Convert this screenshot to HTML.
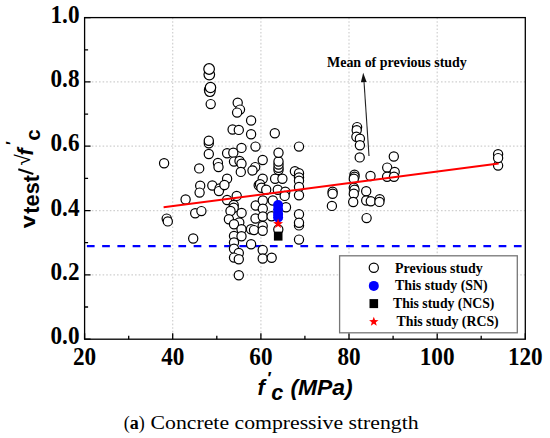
<!DOCTYPE html>
<html><head><meta charset="utf-8"><style>
html,body{margin:0;padding:0;background:#fff;width:550px;height:438px;overflow:hidden}
svg{display:block}


</style></head><body>
<svg width="550" height="438" viewBox="0 0 550 438">
<rect width="550" height="438" fill="#fff"/>
<g stroke="#d0d0d0" stroke-width="1.2" stroke-dasharray="1.6 2.0"><line x1="172.7" y1="17.6" x2="172.7" y2="339.2"/><line x1="260.9" y1="17.6" x2="260.9" y2="339.2"/><line x1="349.0" y1="17.6" x2="349.0" y2="339.2"/><line x1="437.2" y1="17.6" x2="437.2" y2="339.2"/><line x1="84.6" y1="274.9" x2="525.3" y2="274.9"/><line x1="84.6" y1="210.6" x2="525.3" y2="210.6"/><line x1="84.6" y1="146.2" x2="525.3" y2="146.2"/><line x1="84.6" y1="81.9" x2="525.3" y2="81.9"/></g>
<line x1="86.9" y1="246.1" x2="521.6" y2="246.1" stroke="#0000ff" stroke-width="2.2" stroke-dasharray="7.7 7.55"/>
<g fill="#fff" stroke="#000" stroke-width="1.2"><circle cx="164.1" cy="163.2" r="4.6"/><circle cx="166.7" cy="218.6" r="4.6"/><circle cx="167.8" cy="221.4" r="4.6"/><circle cx="185.6" cy="199.5" r="4.6"/><circle cx="193.2" cy="238.5" r="4.6"/><circle cx="195.2" cy="213.2" r="4.6"/><circle cx="201.4" cy="211.1" r="4.6"/><circle cx="199.2" cy="168.4" r="4.6"/><circle cx="200.2" cy="185.7" r="4.6"/><circle cx="199.6" cy="192.6" r="4.6"/><circle cx="209.3" cy="74.6" r="5.3"/><circle cx="209.1" cy="69.0" r="5.3"/><circle cx="209.6" cy="90.0" r="5.2"/><circle cx="209.9" cy="91.3" r="5.2"/><circle cx="210.5" cy="87.5" r="5.2"/><circle cx="210.7" cy="104.1" r="4.6"/><circle cx="208.8" cy="143.2" r="4.6"/><circle cx="208.8" cy="140.8" r="4.6"/><circle cx="208.8" cy="154" r="4.6"/><circle cx="212.3" cy="185.5" r="4.6"/><circle cx="217.9" cy="163" r="4.6"/><circle cx="218.5" cy="167.1" r="4.6"/><circle cx="219.6" cy="188.4" r="4.6"/><circle cx="218.9" cy="191.1" r="4.6"/><circle cx="227.1" cy="153.2" r="4.6"/><circle cx="233.3" cy="152.7" r="4.6"/><circle cx="241.5" cy="147.9" r="4.6"/><circle cx="232.6" cy="129.5" r="4.6"/><circle cx="238.8" cy="129.9" r="4.6"/><circle cx="237.7" cy="102.7" r="4.6"/><circle cx="240" cy="109.6" r="4.6"/><circle cx="237.1" cy="112.6" r="4.6"/><circle cx="234" cy="161.6" r="4.6"/><circle cx="239.5" cy="161" r="4.6"/><circle cx="241.5" cy="163.7" r="4.6"/><circle cx="240.8" cy="171.9" r="4.6"/><circle cx="227.1" cy="178.8" r="4.6"/><circle cx="224.4" cy="185" r="4.6"/><circle cx="236.7" cy="195.9" r="4.6"/><circle cx="227.1" cy="200" r="4.6"/><circle cx="233.7" cy="205" r="4.6"/><circle cx="233.7" cy="207.8" r="4.6"/><circle cx="230.5" cy="211" r="4.6"/><circle cx="241.6" cy="212.9" r="4.6"/><circle cx="228.9" cy="219.2" r="4.6"/><circle cx="239.3" cy="222.5" r="4.6"/><circle cx="234" cy="224.3" r="4.6"/><circle cx="241.5" cy="229.3" r="4.6"/><circle cx="234" cy="235.9" r="4.6"/><circle cx="241.5" cy="236.3" r="4.6"/><circle cx="234" cy="242.5" r="4.6"/><circle cx="234" cy="248.7" r="4.6"/><circle cx="238.8" cy="253" r="4.6"/><circle cx="234" cy="257.6" r="4.6"/><circle cx="238.8" cy="259.2" r="4.6"/><circle cx="238.8" cy="275.3" r="4.6"/><circle cx="251.1" cy="120.5" r="4.6"/><circle cx="251.1" cy="134.2" r="4.6"/><circle cx="255.5" cy="146.6" r="4.6"/><circle cx="255.2" cy="167.1" r="4.6"/><circle cx="252.5" cy="170.5" r="4.6"/><circle cx="251" cy="229.3" r="4.6"/><circle cx="254" cy="230.1" r="4.6"/><circle cx="251.1" cy="244.3" r="4.6"/><circle cx="255.7" cy="205.5" r="4.6"/><circle cx="255.5" cy="218.5" r="4.6"/><circle cx="258.7" cy="185.2" r="4.6"/><circle cx="262.7" cy="160" r="4.6"/><circle cx="262.7" cy="178.8" r="4.6"/><circle cx="260" cy="184.2" r="4.6"/><circle cx="261.4" cy="187.7" r="4.6"/><circle cx="266.2" cy="189.7" r="4.6"/><circle cx="262.8" cy="200.5" r="4.6"/><circle cx="262.8" cy="208.8" r="4.6"/><circle cx="262.8" cy="216.5" r="4.6"/><circle cx="262.7" cy="226" r="4.6"/><circle cx="262.7" cy="230.8" r="4.6"/><circle cx="262.7" cy="250" r="4.6"/><circle cx="262.7" cy="258.5" r="4.6"/><circle cx="271.7" cy="257.8" r="4.6"/><circle cx="272.8" cy="200.5" r="4.6"/><circle cx="271.6" cy="216.2" r="4.6"/><circle cx="274.8" cy="133.2" r="4.6"/><circle cx="278.5" cy="170" r="4.6"/><circle cx="278.5" cy="167.8" r="4.6"/><circle cx="278.5" cy="164.5" r="4.6"/><circle cx="278.5" cy="161.5" r="4.6"/><circle cx="278.5" cy="152.7" r="4.6"/><circle cx="275.1" cy="178.8" r="4.6"/><circle cx="282.4" cy="178.8" r="4.6"/><circle cx="277.8" cy="189.7" r="4.6"/><circle cx="285.3" cy="191.8" r="4.6"/><circle cx="284.7" cy="195.9" r="4.6"/><circle cx="286" cy="207.3" r="4.6"/><circle cx="278.3" cy="229.5" r="4.6"/><circle cx="299" cy="146.6" r="4.6"/><circle cx="294.9" cy="171.2" r="4.6"/><circle cx="299" cy="173.3" r="4.6"/><circle cx="299" cy="177.4" r="4.6"/><circle cx="299" cy="180.8" r="4.6"/><circle cx="299" cy="187" r="4.6"/><circle cx="299" cy="195.2" r="4.6"/><circle cx="299" cy="214.3" r="4.6"/><circle cx="299" cy="225.4" r="4.6"/><circle cx="299" cy="222.8" r="4.6"/><circle cx="299" cy="239.6" r="4.6"/><circle cx="332.6" cy="191.8" r="4.6"/><circle cx="332.6" cy="193.8" r="4.6"/><circle cx="331.9" cy="205.9" r="4.6"/><circle cx="357.1" cy="127.1" r="4.6"/><circle cx="356.7" cy="130.3" r="4.6"/><circle cx="356.4" cy="136.7" r="4.6"/><circle cx="359.9" cy="138.8" r="4.6"/><circle cx="359.9" cy="145.3" r="4.6"/><circle cx="359.7" cy="157.4" r="4.6"/><circle cx="354.5" cy="174.7" r="4.6"/><circle cx="354.5" cy="176.7" r="4.6"/><circle cx="353.8" cy="178.8" r="4.6"/><circle cx="353.8" cy="187.7" r="4.6"/><circle cx="354.5" cy="189.7" r="4.6"/><circle cx="353.8" cy="193.8" r="4.6"/><circle cx="353.2" cy="202" r="4.6"/><circle cx="370.5" cy="176" r="4.6"/><circle cx="366.2" cy="191.2" r="4.6"/><circle cx="366.2" cy="200.5" r="4.6"/><circle cx="370.8" cy="201.2" r="4.6"/><circle cx="379.7" cy="199.2" r="4.6"/><circle cx="379.4" cy="201.9" r="4.6"/><circle cx="366.6" cy="218.1" r="4.6"/><circle cx="393.8" cy="156.5" r="4.6"/><circle cx="387.2" cy="167.6" r="4.6"/><circle cx="394.7" cy="171.9" r="4.6"/><circle cx="387.1" cy="176.7" r="4.6"/><circle cx="394" cy="176.7" r="4.6"/><circle cx="498.1" cy="165.6" r="4.6"/><circle cx="498.1" cy="154.2" r="4.6"/><circle cx="498.1" cy="158.1" r="4.6"/></g>
<line x1="163.6" y1="207.3" x2="498.7" y2="163.6" stroke="#ff0000" stroke-width="2"/>
<g fill="#0000ff"><circle cx="278.1" cy="205.0" r="5"/><circle cx="278.1" cy="209.5" r="5"/><circle cx="278.1" cy="214.0" r="5"/><circle cx="278.1" cy="217.4" r="5"/></g>
<rect x="273.9" y="231.6" width="8.6" height="9" fill="#000"/>
<polygon points="278.10,218.60 279.39,222.02 283.05,222.19 280.19,224.48 281.16,228.01 278.10,226.00 275.04,228.01 276.01,224.48 273.15,222.19 276.81,222.02" fill="#ff0000"/>
<path d="M84.6,339.2V333.2M172.7,339.2V333.2M260.9,339.2V333.2M349.0,339.2V333.2M437.2,339.2V333.2M525.3,339.2V333.2M128.7,339.2V335.7M216.8,339.2V335.7M304.9,339.2V335.7M393.1,339.2V335.7M481.2,339.2V335.7M84.6,339.2H90.6M84.6,307.0H88.1M84.6,274.9H90.6M84.6,242.7H88.1M84.6,210.6H90.6M84.6,178.4H88.1M84.6,146.2H90.6M84.6,114.1H88.1M84.6,81.9H90.6M84.6,49.8H88.1M84.6,17.6H90.6" stroke="#000" stroke-width="1.3" fill="none"/>
<rect x="84.6" y="17.6" width="440.69999999999993" height="321.59999999999997" fill="none" stroke="#000" stroke-width="1.3"/>
<g font-family="Liberation Serif" font-weight="bold" font-size="23.2" fill="#000"><text transform="translate(79.5,344.20) scale(1,1.07)" text-anchor="end">0.0</text><text transform="translate(79.5,279.88) scale(1,1.07)" text-anchor="end">0.2</text><text transform="translate(79.5,215.56) scale(1,1.07)" text-anchor="end">0.4</text><text transform="translate(79.5,151.24) scale(1,1.07)" text-anchor="end">0.6</text><text transform="translate(79.5,86.92) scale(1,1.07)" text-anchor="end">0.8</text><text transform="translate(79.5,22.60) scale(1,1.07)" text-anchor="end">1.0</text><text transform="translate(84.60,364.8) scale(1,1.07)" text-anchor="middle">20</text><text transform="translate(172.74,364.8) scale(1,1.07)" text-anchor="middle">40</text><text transform="translate(260.88,364.8) scale(1,1.07)" text-anchor="middle">60</text><text transform="translate(349.02,364.8) scale(1,1.07)" text-anchor="middle">80</text><text transform="translate(437.16,364.8) scale(1,1.07)" text-anchor="middle">100</text><text transform="translate(525.30,364.8) scale(1,1.07)" text-anchor="middle">120</text></g>
<rect x="339.6" y="255.8" width="177.7" height="77.0" fill="#fff" stroke="#777" stroke-width="1.3"/>
<circle cx="373.8" cy="267.7" r="4.6" fill="#fff" stroke="#000" stroke-width="1.2"/>
<circle cx="373.8" cy="285.9" r="5" fill="#0000ff"/>
<rect x="369.5" y="299.1" width="8.6" height="9" fill="#000"/>
<polygon points="373.80,316.70 375.03,320.00 378.56,320.15 375.80,322.35 376.74,325.75 373.80,323.80 370.86,325.75 371.80,322.35 369.04,320.15 372.57,320.00" fill="#ff0000"/>
<g font-family="Liberation Serif" font-weight="bold" fill="#000"><text x="395" y="272.5" font-size="13.94">Previous study</text><text x="395" y="290" font-size="13.91">This study (SN)</text><text x="393" y="308" font-size="13.73">This study (NCS)</text><text x="396.5" y="325.5" font-size="13.84">This study (RCS)</text></g>
<text x="327" y="66.5" font-family="Liberation Serif" font-weight="bold" font-size="13.98">Mean of previous study</text>
<line x1="369" y1="156" x2="363.9" y2="80" stroke="#222" stroke-width="1.1"/>
<polygon points="363.2,72.8 360.9,82.3 366.6,81.9" fill="#111"/>
<g transform="rotate(-90)" font-family="Liberation Sans" fill="#000"><text transform="translate(-228.2,34.6) scale(1.12,1)" font-weight="bold" font-size="21">v</text><text x="-213.70" y="39.30" font-weight="bold" font-style="normal" font-size="21.76">test</text></g><line x1="18.3" y1="169.3" x2="33.3" y2="174.0" stroke="#000" stroke-width="2.1"/><g transform="rotate(-90)" font-family="Liberation Sans" fill="#000"><text x="-165.50" y="30.30" font-weight="normal" font-style="normal" font-size="20.51">√</text><text x="-155.60" y="33.00" font-weight="bold" font-style="italic" font-size="21.50">f</text><text x="-144.90" y="18.10" font-weight="bold" font-style="normal" font-size="16.00">′</text><text x="-140.80" y="40.00" font-weight="bold" font-style="normal" font-size="20.50">c</text></g>
<g font-family="Liberation Sans" font-weight="bold" fill="#000"><text x="257.5" y="395.4" font-style="italic" font-size="22.1">f</text><text x="267.5" y="383.5" font-size="16.9">′</text><text x="271.3" y="400.4" font-style="italic" font-size="21.6">c</text><text x="290.4" y="395" font-style="italic" font-size="22.9">(MPa)</text></g>
<text x="123.8" y="428.5" font-family="Liberation Serif" font-size="18">(<tspan font-weight="bold">a</tspan>)</text>
<text x="150.6" y="428.5" font-family="Liberation Serif" font-size="18" textLength="268" lengthAdjust="spacingAndGlyphs">Concrete compressive strength</text>
</svg></body></html>
